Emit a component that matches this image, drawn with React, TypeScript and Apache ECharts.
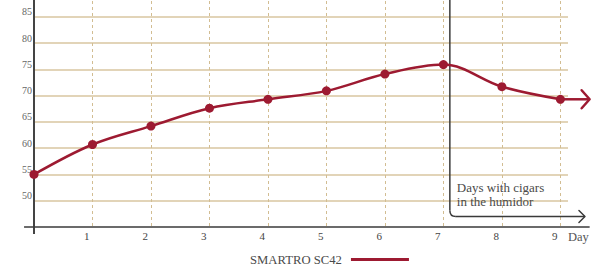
import React, { useEffect, useRef } from 'react';
import * as echarts from 'echarts';

const days = [0, 1, 2, 3, 4, 5, 6, 7, 8, 9];
const values = [55, 60.7, 64.2, 67.6, 69.3, 70.9, 74.1, 75.9, 71.7, 69.3];
const seriesName = 'SMARTRO SC42';
const xAxisName = 'Day';
const annotationLines = ['Days with cigars', 'in the humidor'];

const RED = '#9d1a31';
const TAN = '#d8c6a0';
const DARK = '#3a3a3a';
const SERIF = '"Liberation Serif", "DejaVu Serif", serif';

export default function App() {
  const ref = useRef<HTMLDivElement>(null);

  useEffect(() => {
    document.body.style.margin = '0';
    if (!ref.current) return;
    const chart = echarts.init(ref.current, undefined, { renderer: 'svg' });
    chart.setOption({
      animation: false,
      backgroundColor: '#ffffff',
      grid: { left: 34, right: 32, top: 1, bottom: 42, containLabel: false },
      xAxis: {
        type: 'value',
        min: 0,
        max: 9.13,
        interval: 1,
        name: xAxisName,
        nameLocation: 'end',
        nameGap: 0,
        nameTextStyle: {
          color: '#555',
          fontFamily: SERIF,
          fontSize: 12.5,
          align: 'left',
          verticalAlign: 'top',
          padding: [3, 0, 0, 0],
        },
        axisLine: { show: false },
        axisTick: { show: false },
        axisLabel: {
          showMinLabel: false,
          showMaxLabel: false,
          color: '#444',
          fontFamily: SERIF,
          fontSize: 11,
          align: 'right',
          verticalAlign: 'top',
          margin: 3,
          padding: [0, 3, 0, 0],
        },
        splitLine: {
          show: true,
          showMinLine: false,
          showMaxLine: false,
          lineStyle: { type: [3, 3], color: '#d2bd92', width: 1 },
        },
      },
      yAxis: {
        type: 'value',
        min: 45,
        max: 88,
        interval: 5,
        axisLine: { show: false },
        axisTick: { show: false },
        axisLabel: {
          showMinLabel: false,
          showMaxLabel: false,
          color: '#666',
          fontFamily: SERIF,
          fontSize: 10,
          verticalAlign: 'bottom',
          margin: 2,
        },
        splitLine: {
          show: true,
          showMinLine: false,
          showMaxLine: false,
          lineStyle: { type: 'solid', color: TAN, width: 1.5 },
        },
      },
      legend: {
        data: [seriesName],
        left: 245,
        top: 248,
        align: 'right',
        icon: 'rect',
        itemWidth: 58,
        itemHeight: 3,
        textStyle: { color: '#4a4a4a', fontFamily: SERIF, fontSize: 12.7, padding: [0, 4, 0, 0] },
      },
      series: [
        {
          name: seriesName,
          type: 'line',
          data: days.map((d, i) => [d, values[i]]),
          smooth: 0.35,
          symbol: 'circle',
          symbolSize: 9,
          clip: false,
          lineStyle: { color: RED, width: 2.5 },
          itemStyle: { color: RED },
          z: 5,
        },
      ],
    });

    const p = (x: number, y: number) => chart.convertToPixel({ gridIndex: 0 }, [x, y]) as number[];
    const origin = p(0, 45);
    const axisStart = p(-0.17, 45);
    const axisEnd = p(9.5, 45);
    const last = p(days[days.length - 1], values[values.length - 1]);
    const tipX = p(9.5, 45)[0];
    const corner = p(7.11, 47);
    const annEnd = p(9.42, 47);

    chart.setOption({
      graphic: [
        {
          type: 'line',
          shape: { x1: origin[0], y1: 0, x2: origin[0], y2: origin[1] + 7 },
          style: { stroke: '#444', lineWidth: 2 },
          z: 3,
        },
        {
          type: 'line',
          shape: { x1: axisStart[0], y1: axisStart[1], x2: axisEnd[0], y2: axisEnd[1] },
          style: { stroke: DARK, lineWidth: 1.5 },
          z: 3,
        },
        {
          type: 'line',
          shape: { x1: last[0], y1: last[1], x2: tipX - 1, y2: last[1] },
          style: { stroke: RED, lineWidth: 2.5 },
          z: 4,
        },
        {
          type: 'polyline',
          shape: { points: [[tipX - 8, last[1] - 9], [tipX, last[1]], [tipX - 8, last[1] + 9]] },
          style: { stroke: RED, lineWidth: 2.5, fill: null, lineCap: 'round', lineJoin: 'round' },
          z: 4,
        },
        {
          type: 'line',
          shape: { x1: corner[0], y1: 0, x2: corner[0], y2: corner[1] - 6 },
          style: { stroke: DARK, lineWidth: 1.5 },
          z: 4,
        },
        {
          type: 'bezierCurve',
          shape: { x1: corner[0], y1: corner[1] - 6, cpx1: corner[0], cpy1: corner[1], x2: corner[0] + 6, y2: corner[1] },
          style: { stroke: DARK, lineWidth: 1.5, fill: null },
          z: 4,
        },
        {
          type: 'line',
          shape: { x1: corner[0] + 6, y1: corner[1], x2: annEnd[0], y2: annEnd[1] },
          style: { stroke: DARK, lineWidth: 1.5 },
          z: 4,
        },
        {
          type: 'polyline',
          shape: { points: [[annEnd[0] - 6, annEnd[1] - 6], [annEnd[0], annEnd[1]], [annEnd[0] - 6, annEnd[1] + 6]] },
          style: { stroke: DARK, lineWidth: 1.5, fill: null, lineCap: 'round', lineJoin: 'round' },
          z: 4,
        },
        {
          type: 'text',
          x: corner[0] + 7,
          y: corner[1] - 36,
          style: {
            text: annotationLines.join('\n'),
            fill: '#4a4a4a',
            font: `13px ${SERIF}`,
            lineHeight: 14,
            textVerticalAlign: 'top',
          },
          z: 6,
        },
      ],
    });

    return () => chart.dispose();
  }, []);

  return <div ref={ref} style={{ width: 600, height: 269 }} />;
}
